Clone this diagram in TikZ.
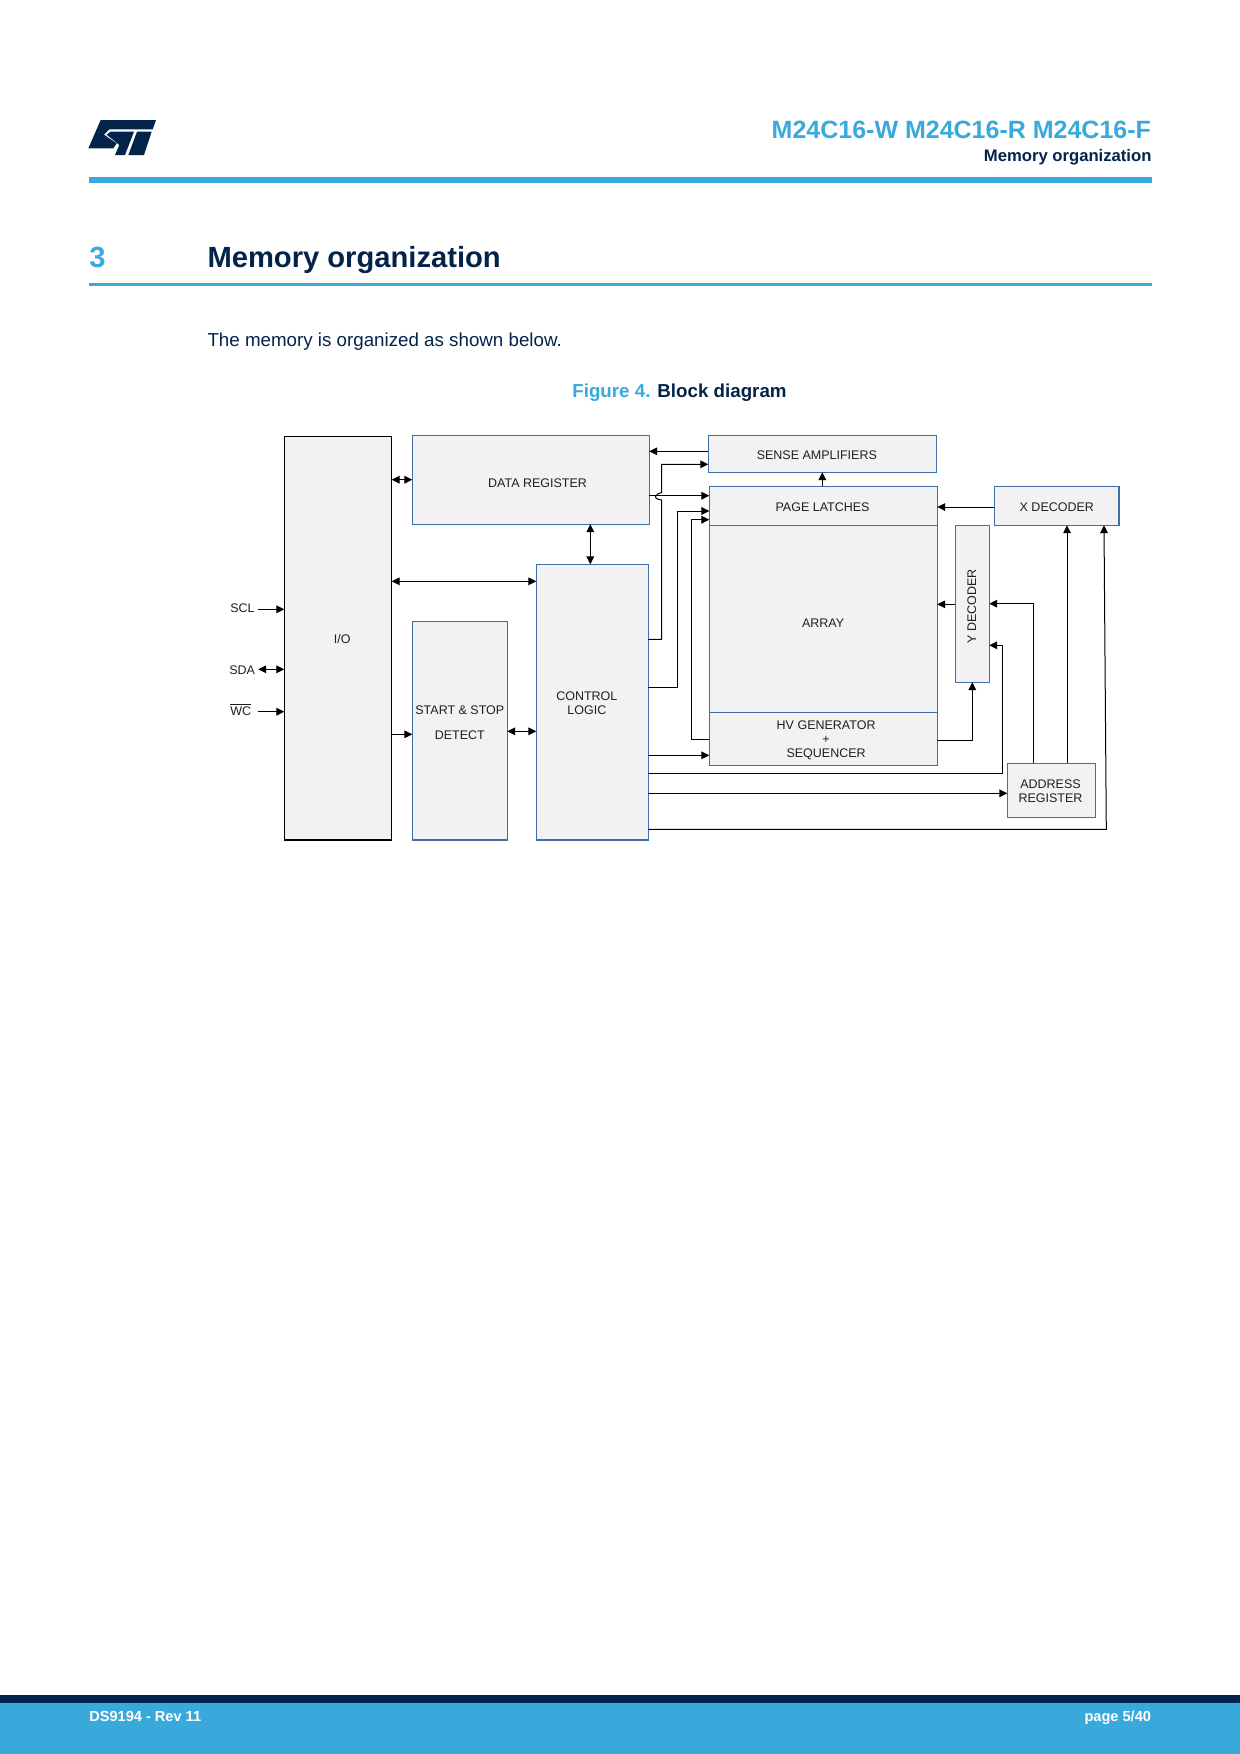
\documentclass[tikz,border=0pt]{standalone}
\usepackage{fontspec}
\setmainfont{Liberation Sans}
\usetikzlibrary{arrows.meta}
\definecolor{stcyan}{HTML}{39A9DC}
\definecolor{stnavy}{HTML}{03234B}
\definecolor{blockblue}{HTML}{3F6FA6}
\definecolor{blockgray}{HTML}{F2F2F2}

\begin{document}
\begin{tikzpicture}[x=0.48pt,y=-0.48pt, >={Triangle[length=3.8pt,width=3.7pt]}, line width=0.48pt]
\tikzset{
  block/.style={draw=blockblue, fill=blockgray, line width=0.55pt, anchor=north west, inner sep=0pt, outer sep=0pt},
  blocktext/.style={font=\fontsize{6}{6.7}\selectfont, text=black!88, align=center, inner sep=0pt, xshift=0.4pt, yshift=-0.4pt},
  pagetext/.style={inner sep=0pt, text=stnavy}
}
\useasboundingbox (0,0) rectangle (1240,1754);

% page frame
\node[pagetext, anchor=base east, text=stcyan, font=\bfseries\fontsize{12}{14}\selectfont] (doctitle) at (1151.5,138.3) {M24C16-W M24C16-R M24C16-F};
\node[pagetext, anchor=base east, font=\bfseries\fontsize{8}{10}\selectfont] (docsection) at (1152,161.7) {Memory organization};
\fill[stcyan] (88.5,176.7) rectangle (1151.7,182.7);
\node[pagetext, anchor=base west, text=stcyan, font=\bfseries\fontsize{14}{16}\selectfont] (secnum) at (88.8,267.3) {3};
\node[pagetext, anchor=base west, font=\bfseries\fontsize{14}{16}\selectfont] (sectitle) at (207,267.3) {Memory organization};
\fill[stcyan] (88.5,282.5) rectangle (1151.7,285.8);
\node[pagetext, anchor=base west, font=\fontsize{9}{11}\selectfont] (intro) at (207,346) {The memory is organized as shown below.};
\node[pagetext, anchor=base, font=\bfseries\fontsize{9}{11}\selectfont] (figcaption) at (679.5,397.7) {\textcolor{stcyan}{Figure 4.} Block diagram};
\fill[stnavy] (0,1695) rectangle (1240,1702.7);
\fill[stcyan] (0,1702.7) rectangle (1240,1754);
\node[pagetext, anchor=base west, text=white, font=\bfseries\fontsize{7}{9}\selectfont] (docrev) at (88.8,1721.7) {DS9194 - Rev 11};
\node[pagetext, anchor=base east, text=white, font=\bfseries\fontsize{7}{9}\selectfont] (docpage) at (1151.5,1721.7) {page 5/40};

% logo
\begin{scope}[shift={(70,100)},x=0.16pt,y=-0.16pt]
  \fill[stnavy] (92,60) -- (258,60) -- (248,88) -- (118,88) -- (102,104) -- (140,130) -- (130,145) -- (55,145) -- cycle;
  \fill[stnavy] (122,95) -- (192,95) -- (165,165) -- (135,165) -- (148,135) -- (110,104) -- cycle;
  \fill[stnavy] (201,95) -- (245,95) -- (222,165) -- (175,165) -- cycle;
\end{scope}

% blocks
\foreach \nm/\x/\y/\w/\h in {dreg/412.3/435.3/237/89, ctrl/536.3/564.3/112/275.7, detect/412.3/621.3/95/218.7,
    sense/708.3/435.3/228/37, latches/709.3/486.3/228/39, array/709.3/525.3/228/187,
    hvgen/709.3/712.3/228/53, xdec/994.3/486.3/125/39, ydec/955.3/525.3/34/157, addr/1007.3/763.3/88/54}
  \node[block, minimum width=\w*0.48pt, minimum height=\h*0.48pt] (\nm) at (\x,\y) {};
\node[block, draw=black, minimum width=107.4*0.48pt, minimum height=403.7*0.48pt] (io) at (284.3,436.3) {};
\draw[blockblue, line width=0.9pt] (xdec.north east) -- (xdec.south east);

% block labels
\node[blocktext] (iotext) at (341.3,638.3) {I/O};
\node[blocktext] (dregtext) at (536.7,482.3) {DATA REGISTER};
\node[blocktext] (ctrltext) at (586,702) {CONTROL\\LOGIC};
\node[blocktext] (detecttext) at (459,721.5) {START \& STOP\\[5.3pt]DETECT};
\node[blocktext] (sensetext) at (816,454.3) {SENSE AMPLIFIERS};
\node[blocktext] (latchestext) at (821.7,506.3) {PAGE LATCHES};
\node[blocktext] (arraytext) at (822.3,622) {ARRAY};
\node[blocktext] (hvgentext) at (825.3,739.3) {HV GENERATOR\\+\\SEQUENCER};
\node[blocktext] (xdectext) at (1056,506.3) {X DECODER};
\node[blocktext, rotate=90] (ydectext) at (971,605.3) {Y DECODER};
\node[blocktext] (addrtext) at (1049.7,790.3) {ADDRESS\\REGISTER};

% pins
\node[blocktext] (scl) at (241.7,607.3) {SCL};
\node[blocktext] (sda) at (241.3,669.3) {SDA};
\node[blocktext] (wc) at (240,708.5) {$\overline{\mbox{WC}}$};
\coordinate (sclin) at (258.3,609.3);
\coordinate (sdain) at (258.3,669.3);
\coordinate (wcin) at (258,711.7);
\draw[->] (sclin) -- (io.west |- sclin);
\draw[<->] (sdain) -- (io.west |- sdain);
\draw[->] (wcin) -- (io.west |- wcin);

% left part
\draw[<->] (io.east |- 0,479.7) -- (dreg.west |- 0,479.7);
\draw[<->] (io.east |- 0,581.3) -- (ctrl.west |- 0,581.3);
\draw[->] (io.east |- 0,734.3) -- (detect.west |- 0,734.3);
\draw[<->] (detect.east |- 0,731.3) -- (ctrl.west |- 0,731.3);
\draw[<->] (590.3,0 |- dreg.south) -- (590.3,0 |- ctrl.north);

% array side
\draw[->] (sense.west |- 0,451.3) -- (dreg.east |- 0,451.3);
\draw[->] (ctrl.east |- 0,639.3) -- (661.7,639.3) -- (661.7,500)
  .. controls (657,499.5) and (654,497.5) .. (656,495.7)
  .. controls (657,494) and (659,493) .. (661.5,492.7)
  -- (661.5,464.3) -- (sense.west |- 0,464.3);
\draw[->] (dreg.east |- 0,495.7) -- (latches.west |- 0,495.7);
\draw[->] (ctrl.east |- 0,687.3) -| (677.3,511) -- (latches.west |- 0,511);
\draw[->] (hvgen.west |- 0,739.3) -| (691.3,519.7) -- (latches.west |- 0,519.7);
\draw[->] (ctrl.east |- 0,755.3) -- (hvgen.west |- 0,755.3);
\draw[->] (ctrl.east |- 0,773.3) -| (1002,645.3) -- (ydec.east |- 0,645.3);
\draw[->] (ctrl.east |- 0,793.3) -- (addr.west |- 0,793.3);
\draw[->] (ctrl.east |- 0,829.3) -- (1106.3,829.3) -- (1104,525.3);
\draw[->] (latches.north -| 822.3,0) -- (sense.south -| 822.3,0);
\draw[->] (xdec.west |- 0,507) -- (latches.east |- 0,507);
\draw[->] (ydec.west |- 0,604.3) -- (array.east |- 0,604.3);
\draw[->] (addr.north -| 1033.7,0) |- (ydec.east |- 0,603.7);
\draw[->] (addr.north -| 1067,0) -- (xdec.south -| 1067,0);
\draw[->] (hvgen.east |- 0,740) -| (ydec.south);
\end{tikzpicture}
\end{document}
